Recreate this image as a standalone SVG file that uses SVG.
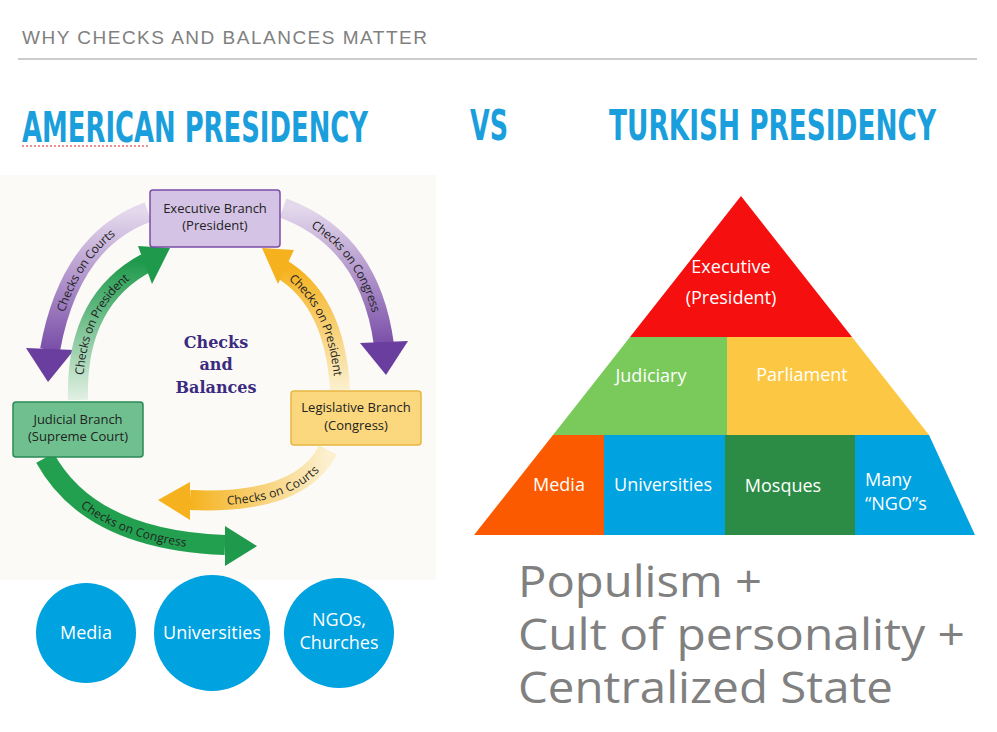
<svg xmlns="http://www.w3.org/2000/svg" width="997" height="732" viewBox="0 0 997 732">
<style>
.hd{font-family:"Liberation Sans",Arial,sans-serif;font-size:19px;fill:#808080;letter-spacing:1.5px}
.tt{font-family:"DejaVu Sans",sans-serif;font-stretch:condensed;font-weight:bold;font-size:42px;fill:#1a9fdc}
.pt{font-family:"Open Sans","DejaVu Sans",sans-serif;font-size:18px;fill:#fff;text-anchor:middle}
.bt{font-family:"Open Sans","DejaVu Sans",sans-serif;font-size:44px;fill:#808080}
.bx{font-family:"Open Sans","DejaVu Sans",sans-serif;font-size:13px;fill:#222;text-anchor:middle}
.al{font-family:"Open Sans","DejaVu Sans",sans-serif;font-size:12px;fill:#222;text-anchor:middle;dominant-baseline:central}
.cb{font-family:"DejaVu Serif",serif;font-weight:bold;font-size:16px;fill:#3a2a80;text-anchor:middle}
.ci{font-family:"Open Sans","DejaVu Sans",sans-serif;font-size:18px;fill:#fff;text-anchor:middle}
.arr{fill:none;stroke-width:20}
</style>
<defs>
<linearGradient id="gp1" x1="0" y1="0" x2="0" y2="1"><stop offset="0" stop-color="#e4d8ec"/><stop offset="1" stop-color="#7a4ea8"/></linearGradient>
<linearGradient id="gg1" x1="0" y1="1" x2="0" y2="0"><stop offset="0" stop-color="#e2f0e4"/><stop offset="1" stop-color="#1f9a4c"/></linearGradient>
<linearGradient id="gy1" x1="0" y1="1" x2="0" y2="0"><stop offset="0" stop-color="#fbf0cf"/><stop offset="1" stop-color="#f5b21e"/></linearGradient>
<linearGradient id="gy2" x1="1" y1="0" x2="0" y2="0"><stop offset="0" stop-color="#fbf0cf"/><stop offset="1" stop-color="#f5b21e"/></linearGradient>
<path id="p1" d="M50,350 Q70,240 148,212"/>
<path id="p2" d="M283,208 Q370,240 384,345"/>
<path id="p3" d="M78,400 Q75,300 148,262"/>
<path id="p4" d="M280,268 Q335,300 340,390"/>
<path id="p5" d="M190,500 Q300,505 328,450"/>
<path id="p6" d="M45,458 Q90,540 225,545"/>
</defs>
<rect width="997" height="732" fill="#fff"/>
<text class="hd" x="22" y="44">WHY CHECKS AND BALANCES MATTER</text>
<line x1="18" y1="59" x2="977" y2="59" stroke="#999" stroke-width="1.2"/>
<text class="tt" x="22" y="142" textLength="346" lengthAdjust="spacingAndGlyphs">AMERICAN PRESIDENCY</text>
<path d="M22,146 L150,146" stroke="#d22" stroke-width="1.2" stroke-dasharray="2 2"/>
<text class="tt" x="470" y="140" textLength="38" lengthAdjust="spacingAndGlyphs">VS</text>
<text class="tt" x="609" y="140" textLength="327" lengthAdjust="spacingAndGlyphs">TURKISH PRESIDENCY</text>

<g id="american-diagram">
<rect x="0" y="175" width="436" height="405" fill="#fbfaf6"/>
<g id="connectors">
<path class="arr" stroke="url(#gp1)" d="M148,212 Q70,240 50,350"/>
<polygon points="26,348 74,350 48,382" fill="#6a3e9e"/>
<path class="arr" stroke="url(#gp1)" d="M283,208 Q370,240 384,345"/>
<polygon points="360,343 408,341 386,375" fill="#6a3e9e"/>
<path class="arr" stroke="url(#gg1)" d="M78,400 Q75,300 148,262"/>
<polygon points="138,246 170,248 152,284" fill="#1f9a4c"/>
<path class="arr" stroke="url(#gy1)" d="M340,390 Q335,300 280,268"/>
<polygon points="262,248 294,250 278,284" fill="#f5b21e"/>
<path class="arr" stroke="url(#gy2)" d="M328,450 Q300,505 190,500"/>
<polygon points="190,482 190,520 158,500" fill="#f5b21e"/>
<path class="arr" stroke="#23a04f" d="M45,458 Q90,540 225,545"/>
<polygon points="225,526 225,566 257,546" fill="#1f9a4c"/>
<text class="al"><textPath href="#p1" startOffset="50%">Checks on Courts</textPath></text>
<text class="al"><textPath href="#p2" startOffset="50%">Checks on Congress</textPath></text>
<text class="al"><textPath href="#p3" startOffset="50%">Checks on President</textPath></text>
<text class="al"><textPath href="#p4" startOffset="50%">Checks on President</textPath></text>
<text class="al"><textPath href="#p5" startOffset="55%">Checks on Courts</textPath></text>
<text class="al"><textPath href="#p6" startOffset="55%">Checks on Congress</textPath></text>
</g>
<g id="executive"><rect x="150" y="190" width="130" height="57" rx="3" fill="#d5c3e6" stroke="#7a4ea8" stroke-width="1.5"/>
<text class="bx" x="215" y="213">Executive Branch</text><text class="bx" x="215" y="230">(President)</text></g>
<g id="judicial"><rect x="13" y="402" width="130" height="55" rx="3" fill="#6fc08e" stroke="#2a8a55" stroke-width="1.5"/>
<text class="bx" x="78" y="424">Judicial Branch</text><text class="bx" x="78" y="441">(Supreme Court)</text></g>
<g id="legislative"><rect x="291" y="391" width="130" height="54" rx="3" fill="#fbd77e" stroke="#e9b740" stroke-width="1.5"/>
<text class="bx" x="356" y="412">Legislative Branch</text><text class="bx" x="356" y="430">(Congress)</text></g>
<g id="center"><text class="cb" x="216" y="348">Checks</text><text class="cb" x="216" y="370">and</text><text class="cb" x="216" y="393">Balances</text></g>
</g>

<g id="circles">
<g id="media-c"><circle cx="86" cy="633" r="50" fill="#00a2e0"/><text class="ci" x="86" y="639">Media</text></g>
<g id="univ-c"><circle cx="212" cy="633" r="58" fill="#00a2e0"/><text class="ci" x="212" y="639">Universities</text></g>
<g id="ngo-c"><circle cx="339" cy="633" r="55" fill="#00a2e0"/><text class="ci" x="339" y="626">NGOs,</text><text class="ci" x="339" y="649">Churches</text></g>
</g>

<g id="pyramid">
<g id="exec-t"><polygon points="741,196 852,337 630,337" fill="#f50f0f"/>
<text class="pt" x="731" y="273">Executive</text><text class="pt" x="731" y="304">(President)</text></g>
<g id="jud-t"><polygon points="630,337 727,337 727,435 553,435" fill="#79c95b"/><text class="pt" x="651" y="382">Judiciary</text></g>
<g id="par-t"><polygon points="727,337 852,337 929,435 727,435" fill="#fcc844"/><text class="pt" x="802" y="381">Parliament</text></g>
<g id="media-t"><polygon points="553,435 604,435 604,535 474,535" fill="#fb5a00"/><text class="pt" x="559" y="491">Media</text></g>
<g id="univ-t"><rect x="604" y="435" width="121" height="100" fill="#00a2e0"/><text class="pt" x="663" y="491">Universities</text></g>
<g id="mosq-t"><rect x="725" y="435" width="130" height="100" fill="#2c8c46"/><text class="pt" x="783" y="492">Mosques</text></g>
<g id="ngo-t"><polygon points="855,435 929,435 975,535 855,535" fill="#00a2e0"/>
<text class="pt" x="865" y="486" style="text-anchor:start">Many</text><text class="pt" x="865" y="510" style="text-anchor:start">“NGO”s</text></g>
</g>

<g id="bottom-text">
<text class="bt" x="518" y="597" textLength="244" lengthAdjust="spacingAndGlyphs">Populism +</text>
<text class="bt" x="518" y="650" textLength="447" lengthAdjust="spacingAndGlyphs">Cult of personality +</text>
<text class="bt" x="518" y="703" textLength="375" lengthAdjust="spacingAndGlyphs">Centralized State</text>
</g>
</svg>
